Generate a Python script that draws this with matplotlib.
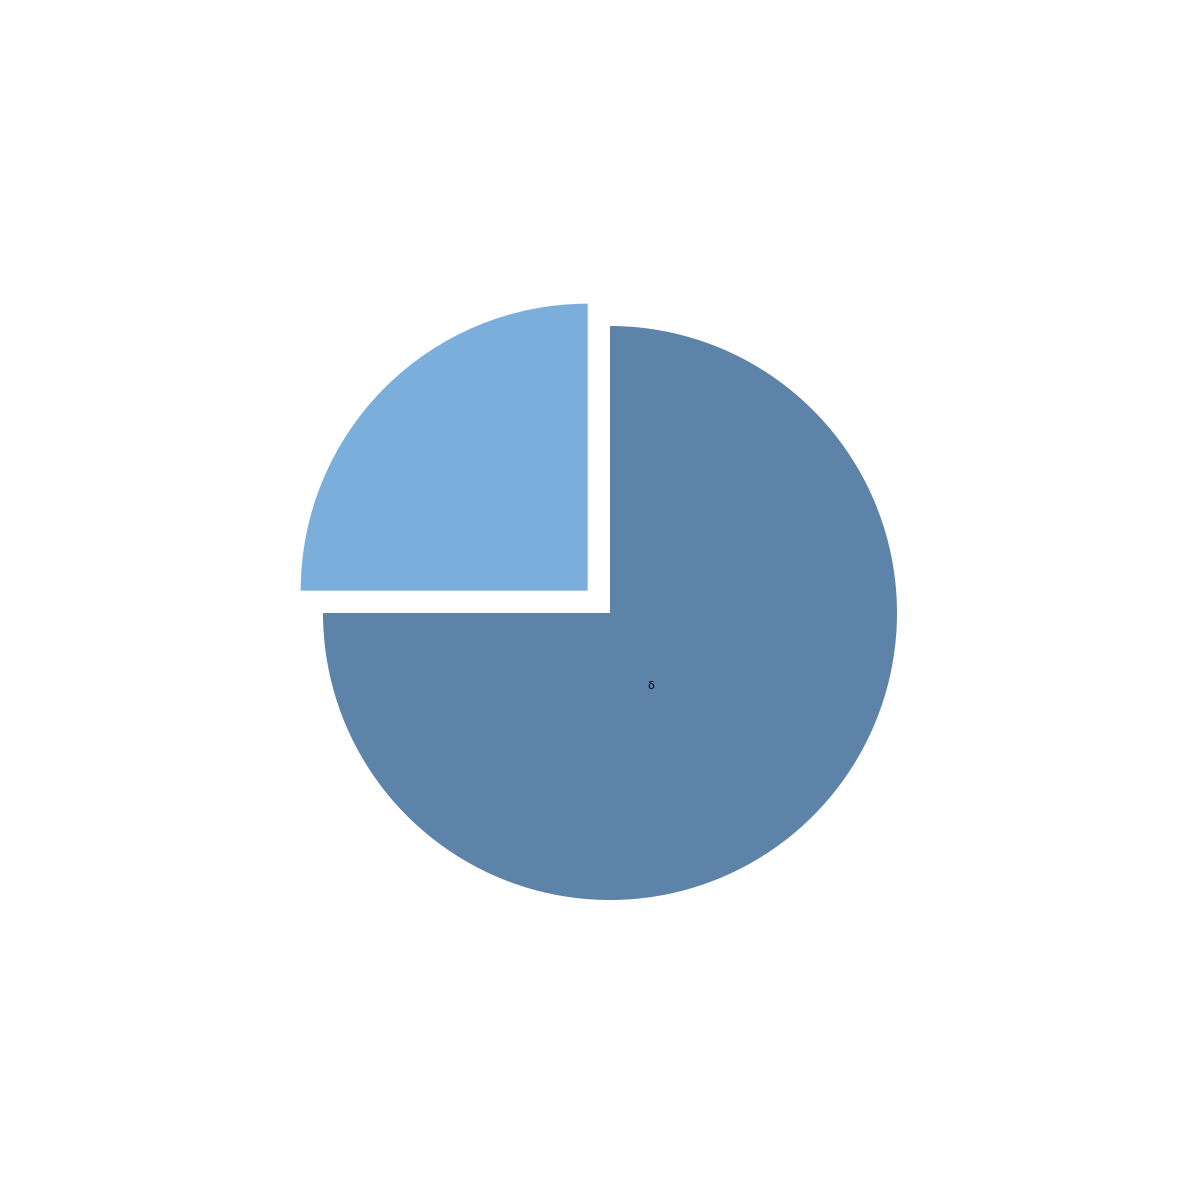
import matplotlib
matplotlib.use("Agg")
import matplotlib.pyplot as plt

# slice data
labels = ["A", "B"]
values = [75, 25]
colors = ["#5D83A8", "#7CAEDC"]
explode = [0, 0.11]
note_text = "δ"

fig = plt.figure(figsize=(12, 12.01), dpi=100)
ax = fig.add_axes([0, 0, 1, 1])

ax.pie(
    values,
    colors=colors,
    explode=explode,
    startangle=90,
    counterclock=False,
    radius=1.0,
    wedgeprops=dict(linewidth=0),
)

# place pie so that radius 1 is ~287 px, centre near (610, 613)
r_px = 287.0
ax.set_xlim(-610 / r_px, 590 / r_px)
ax.set_ylim(-(1201 - 613) / r_px, 613 / r_px)
ax.set_aspect("equal", adjustable="box")
ax.axis("off")

ax.text(0.143, -0.254, note_text, fontsize=8, ha="center", va="center", color="black")

fig.savefig("out.png", dpi=100, facecolor="white")
